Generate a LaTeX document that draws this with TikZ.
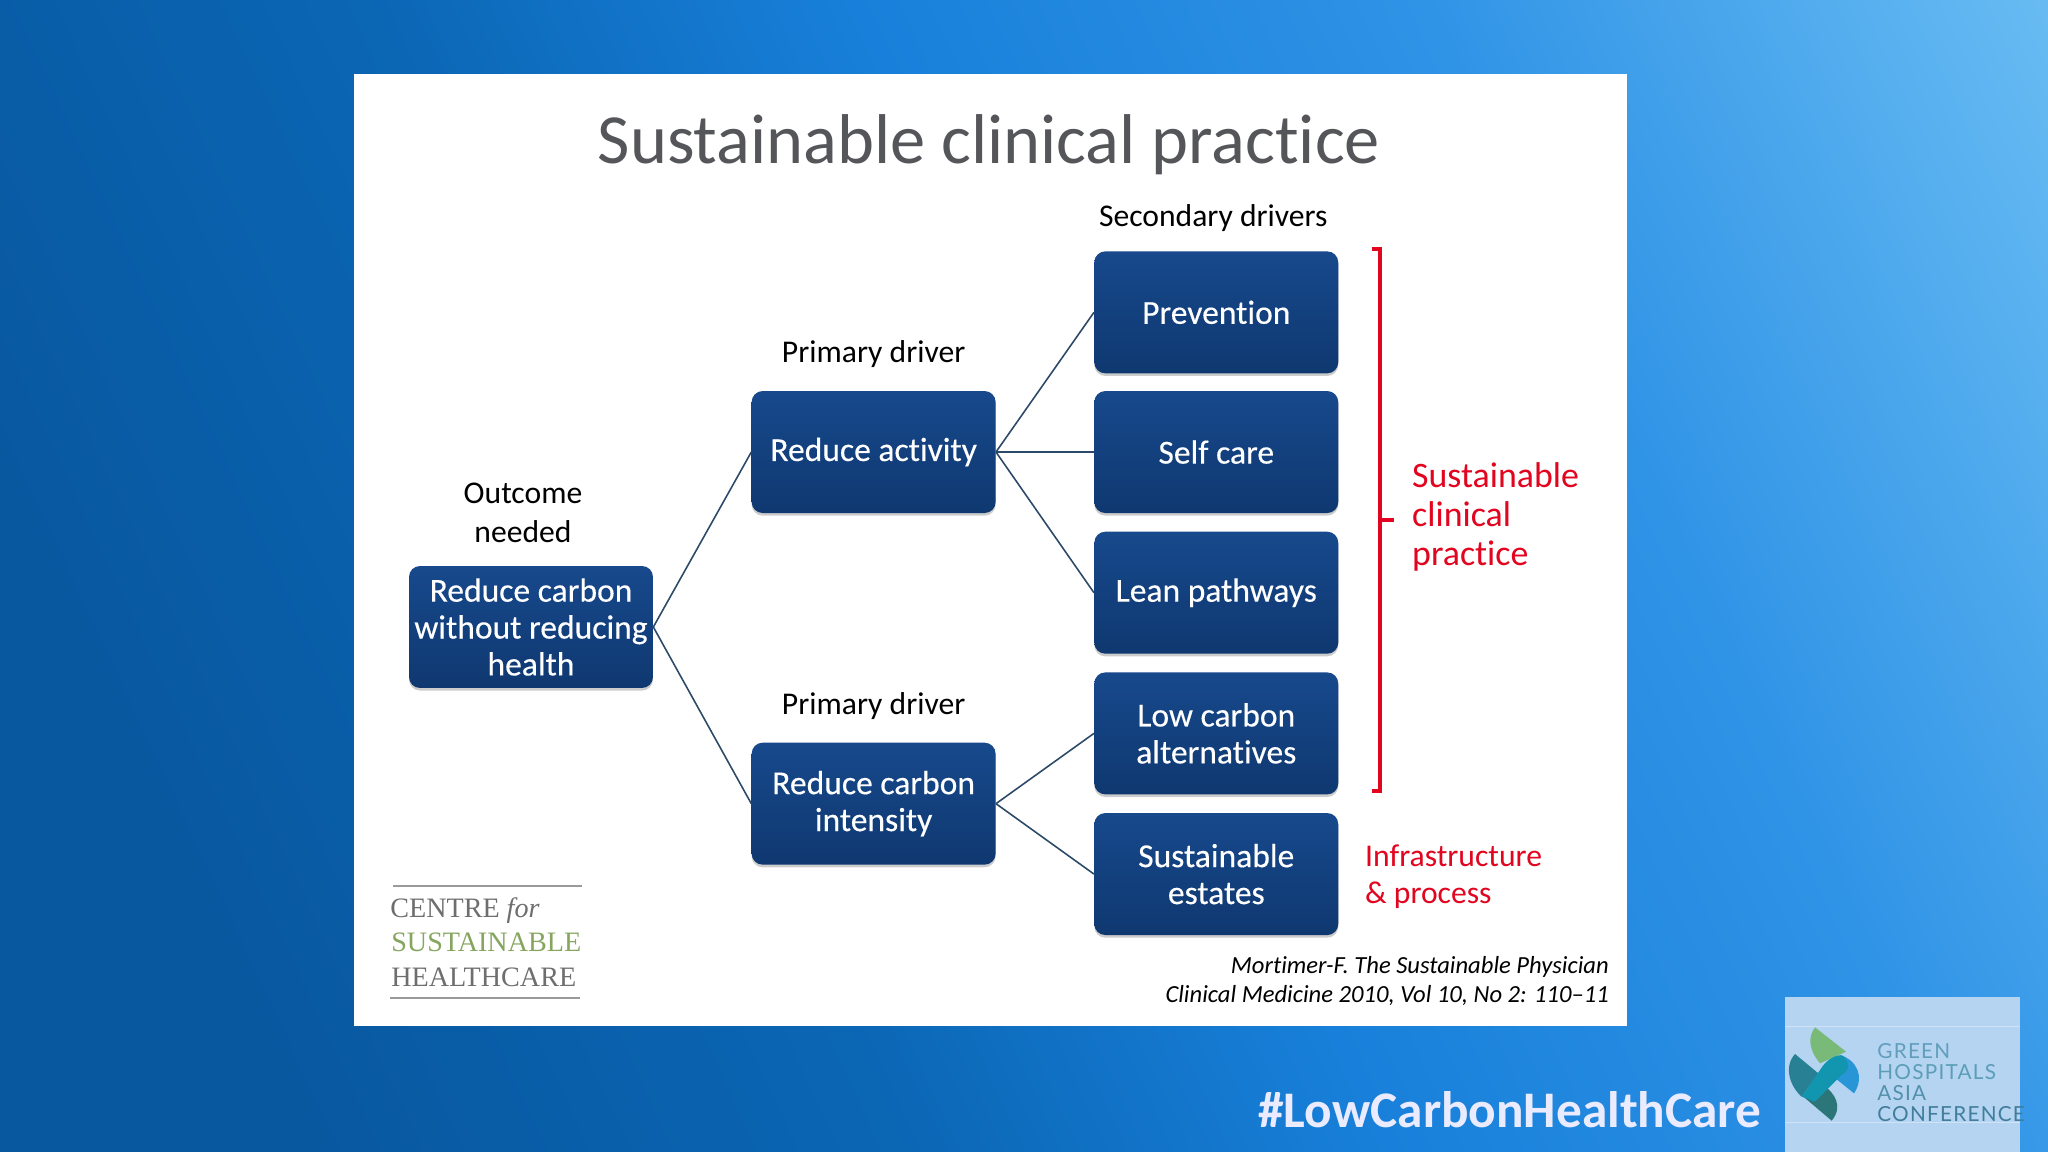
\documentclass[tikz,border=0pt]{standalone}
\usepackage{fontspec}
\setmainfont[Ligatures=NoCommon]{Carlito}
\newfontfamily\drivefont[Ligatures=NoCommon,FakeBold=0.3]{Carlito}
\newfontfamily\cshfont{Liberation Serif}
\newfontfamily\ghafont[LetterSpace=6]{Lato}
\usepackage{xcolor}
\usetikzlibrary{positioning}
\usetikzlibrary{shadows}

\definecolor{boxtop}{HTML}{17498C}
\definecolor{boxbottom}{HTML}{0F3870}
\definecolor{linkblue}{HTML}{2C4A68}
\definecolor{redtext}{HTML}{E2051F}
\definecolor{titlegrey}{HTML}{55565A}
\definecolor{cshgrey}{HTML}{6E6E6E}
\definecolor{cshgreen}{HTML}{86A660}
\definecolor{bgone}{HTML}{0858A0}
\definecolor{bgtwo}{HTML}{0B66B4}
\definecolor{bgthree}{HTML}{1880DA}
\definecolor{bgfour}{HTML}{2F93E6}
\definecolor{bgfive}{HTML}{6EC0F4}
\definecolor{logopanel}{RGB}{180,212,241}

\pgfdeclareverticalshading{bgshade}{100bp}{color(0bp)=(bgfive); color(15bp)=(bgfive); color(33bp)=(bgfour); color(47.5bp)=(bgthree); color(60bp)=(bgtwo); color(75bp)=(bgone); color(100bp)=(bgone)}

\tikzset{
  driver/.style={draw=none, rounded corners=0.22cm, top color=boxtop, bottom color=boxbottom,
    minimum width=4.88cm, minimum height=2.44cm, inner sep=0pt, align=center, text=white,
    font=\fontsize{19.1}{21}\drivefont,
    drop shadow={shadow xshift=0pt, shadow yshift=-1.5pt, opacity=0.2, fill=black}},
  heading/.style={align=center, font=\fontsize{18}{22}\selectfont},
  redlabel/.style={align=left, text=redtext, anchor=west},
  link/.style={draw=linkblue, line width=0.9pt},
  bracket/.style={draw=redtext, line width=2.2pt},
  node distance=0.36cm
}

\begin{document}
\begin{tikzpicture}[x=0.02cm, y=-0.02cm]
\useasboundingbox (0,0) rectangle (2048,1152);

%% background and panels
\shade[shading=bgshade, shading angle=115] (0,0) rectangle (2048,1152);
\fill[white] (354,74) rectangle (1627,1026);
\fill[logopanel] (1785,997) rectangle (2020,1152);
\draw[white, opacity=0.35, line width=0.5pt] (1785,1026) -- (2020,1026) (1785,1122) -- (2020,1122);

\node[text=titlegrey, font=\fontsize{40.1}{44}\selectfont](title) at (989,145) {Sustainable clinical practice};

%% boxes
\node[driver](carbon) at (531,627) {Reduce carbon\\without reducing\\health};
\node[driver, right=of carbon, xshift=1.6cm, yshift=3.5cm](activity) {Reduce activity};
\node[driver, below=of activity, yshift=-4.22cm](intensity) {Reduce carbon\\intensity};

\node[driver, right=of activity, xshift=1.6cm](selfcare) {Self care};
\node[driver, above=of selfcare, yshift=-0.02cm](prevention) {Prevention};
\node[driver, below=of selfcare](lean) {Lean pathways};
\node[driver, below=of lean, yshift=0cm](lowcarbon) {Low carbon\\alternatives};
\node[driver, below=of lowcarbon](estates) {Sustainable\\estates};

%% headings
\node[heading, above=0.34cm of carbon, xshift=-0.16cm](outcome) {Outcome\\needed};
\node[heading, above=0.33cm of activity](primaryone) {Primary driver};
\node[heading, above=0.33cm of intensity](primarytwo) {Primary driver};
\node[heading, above=0.26cm of prevention, xshift=-0.06cm](secondary) {Secondary drivers};

%% connectors
\draw[link] (carbon.east) -- (activity.west);
\draw[link] (carbon.east) -- (intensity.west);
\draw[link] (activity.east) -- (prevention.west);
\draw[link] (activity.east) -- (selfcare.west);
\draw[link] (activity.east) -- (lean.west);
\draw[link] (intensity.east) -- (lowcarbon.west);
\draw[link] (intensity.east) -- (estates.west);

%% red bracket
\coordinate (brackettop) at (1372,249);
\coordinate (bracketbottom) at (1372,791);
\coordinate (brackettick) at (1394,520);
\draw[bracket] (brackettop) -- (1380,249) -- (1380,791) -- (bracketbottom);
\draw[bracket] (1380,520) -- (brackettick);

\node[redlabel, font=\fontsize{20.4}{22}\selectfont](sustainable) at (1406,517) {Sustainable\\clinical\\practice};
\node[redlabel, font=\fontsize{18}{21}\selectfont](infra) at (1359,877) {Infrastructure\\\& process};

\node[align=right, anchor=east, font=\fontsize{14}{16.5}\selectfont\itshape](source) at (1615,981) {Mortimer-F. The Sustainable Physician\\Clinical Medicine 2010, Vol 10, No 2: 110--11};

%% centre logo
\draw[cshgrey!70, line width=0.6pt] (393,886) -- (582,886);
\draw[cshgrey!70, line width=0.6pt] (390,998) -- (580,998);
\node[anchor=base west, inner sep=0pt, text=cshgrey, font=\fontsize{16}{20}\cshfont](cshone) at (390,917) {CENTRE \textit{for}};
\node[anchor=base west, inner sep=0pt, text=cshgreen, font=\fontsize{16}{20}\cshfont](cshtwo) at (391,951) {SUSTAINABLE};
\node[anchor=base west, inner sep=0pt, text=cshgrey, font=\fontsize{16}{20}\cshfont](cshthree) at (391,986) {HEALTHCARE};

%% conference logo
\begin{scope}[shift={(1760,980)}, scale=1/3]
  \fill[fill={rgb,255:red,122;green,186;blue,120}] (165,142) -- (258,215) -- (180,250) .. controls (150,215) and (140,175) .. (165,142);
  \fill[fill={rgb,255:red,40;green,128;blue,148}] (105,222) -- (175,280) -- (125,350) .. controls (90,320) and (70,260) .. (105,222);
  \fill[fill={rgb,255:red,44;green,118;blue,122}] (190,315) .. controls (225,340) and (250,380) .. (215,422) -- (130,350) -- cycle;
  \fill[fill={rgb,255:red,40;green,150;blue,214}] (240,225) .. controls (290,240) and (315,290) .. (282,340) -- (230,298) -- cycle;
  \fill[fill={rgb,255:red,18;green,150;blue,176}] (125,350) -- (180,270) .. controls (200,235) and (235,220) .. (250,228) .. controls (270,250) and (270,270) .. (245,285) -- (165,365) -- cycle;
\end{scope}
\node[anchor=north west, inner sep=0pt, align=left, font=\fontsize{11.8}{12}\ghafont](ghatext) at (1877,1043) {\textcolor[HTML]{619EBB}{GREEN}\\\textcolor[HTML]{5C9EB8}{HOSPITALS}\\\textcolor[HTML]{5290AC}{ASIA}\\\textcolor[HTML]{417E9C}{CONFERENCE}};

\node[anchor=base west, inner sep=0pt, text=white!92!blue, font=\fontsize{29.2}{32}\selectfont\bfseries](hashtag) at (1258,1127) {\#LowCarbonHealthCare};

\end{tikzpicture}
\end{document}
